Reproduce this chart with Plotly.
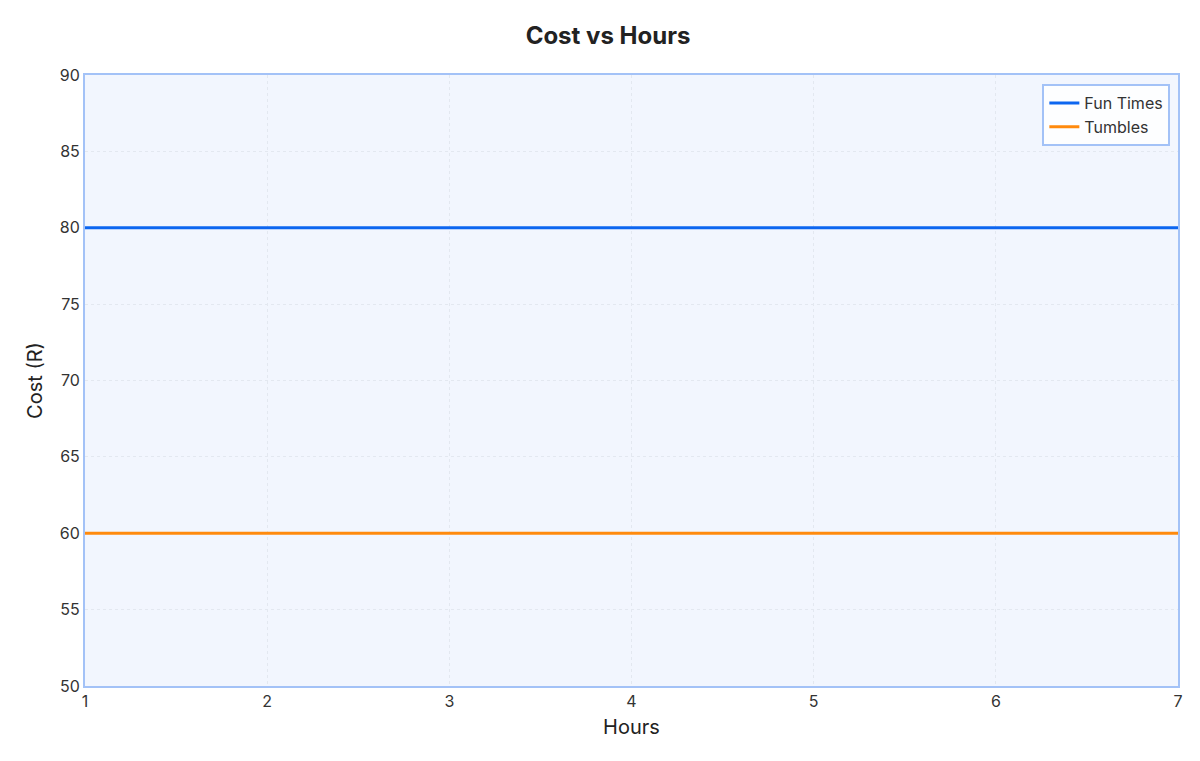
import plotly.graph_objects as go

hours = [1, 2, 3, 4, 5, 6, 7]
fun_times = [80, 80, 80, 80, 80, 80, 80]
tumbles = [60, 60, 60, 60, 60, 60, 60]

fig = go.Figure()
fig.add_trace(go.Scatter(x=hours, y=fun_times, mode="lines", name="Fun Times",
                         line=dict(color="#0d66f0", width=3)))
fig.add_trace(go.Scatter(x=hours, y=tumbles, mode="lines", name="Tumbles",
                         line=dict(color="#ff8a0d", width=3)))

font = "Inter, Lato, sans-serif"
axis = dict(showline=True, linecolor="#a3c2f7", linewidth=2, mirror=True,
            gridcolor="#e3e8f0", griddash="dot", zeroline=False,
            tickfont=dict(size=16, color="#333"), ticks="")
fig.update_layout(
    width=1200, height=761,
    paper_bgcolor="white", plot_bgcolor="#f2f6fe",
    font=dict(family=font, color="#222"),
    title=dict(text="<b>Cost vs Hours</b>", x=0.5, y=0.975, xanchor="center",
               font=dict(size=24, color="#222")),
    margin=dict(l=77, r=30, t=67, b=83),
    xaxis=dict(axis, range=[1, 7], dtick=1,
               title=dict(text="Hours", font=dict(size=20), standoff=10)),
    yaxis=dict(axis, range=[50, 90], dtick=5,
               title=dict(text="Cost (R)", font=dict(size=20), standoff=12)),
    legend=dict(x=0.993, y=0.985, xanchor="right", yanchor="top",
                bgcolor="rgba(255,255,255,0.85)", bordercolor="#a3c2f7", borderwidth=2,
                font=dict(size=16, color="#333")),
)
fig.write_html("out.html")
